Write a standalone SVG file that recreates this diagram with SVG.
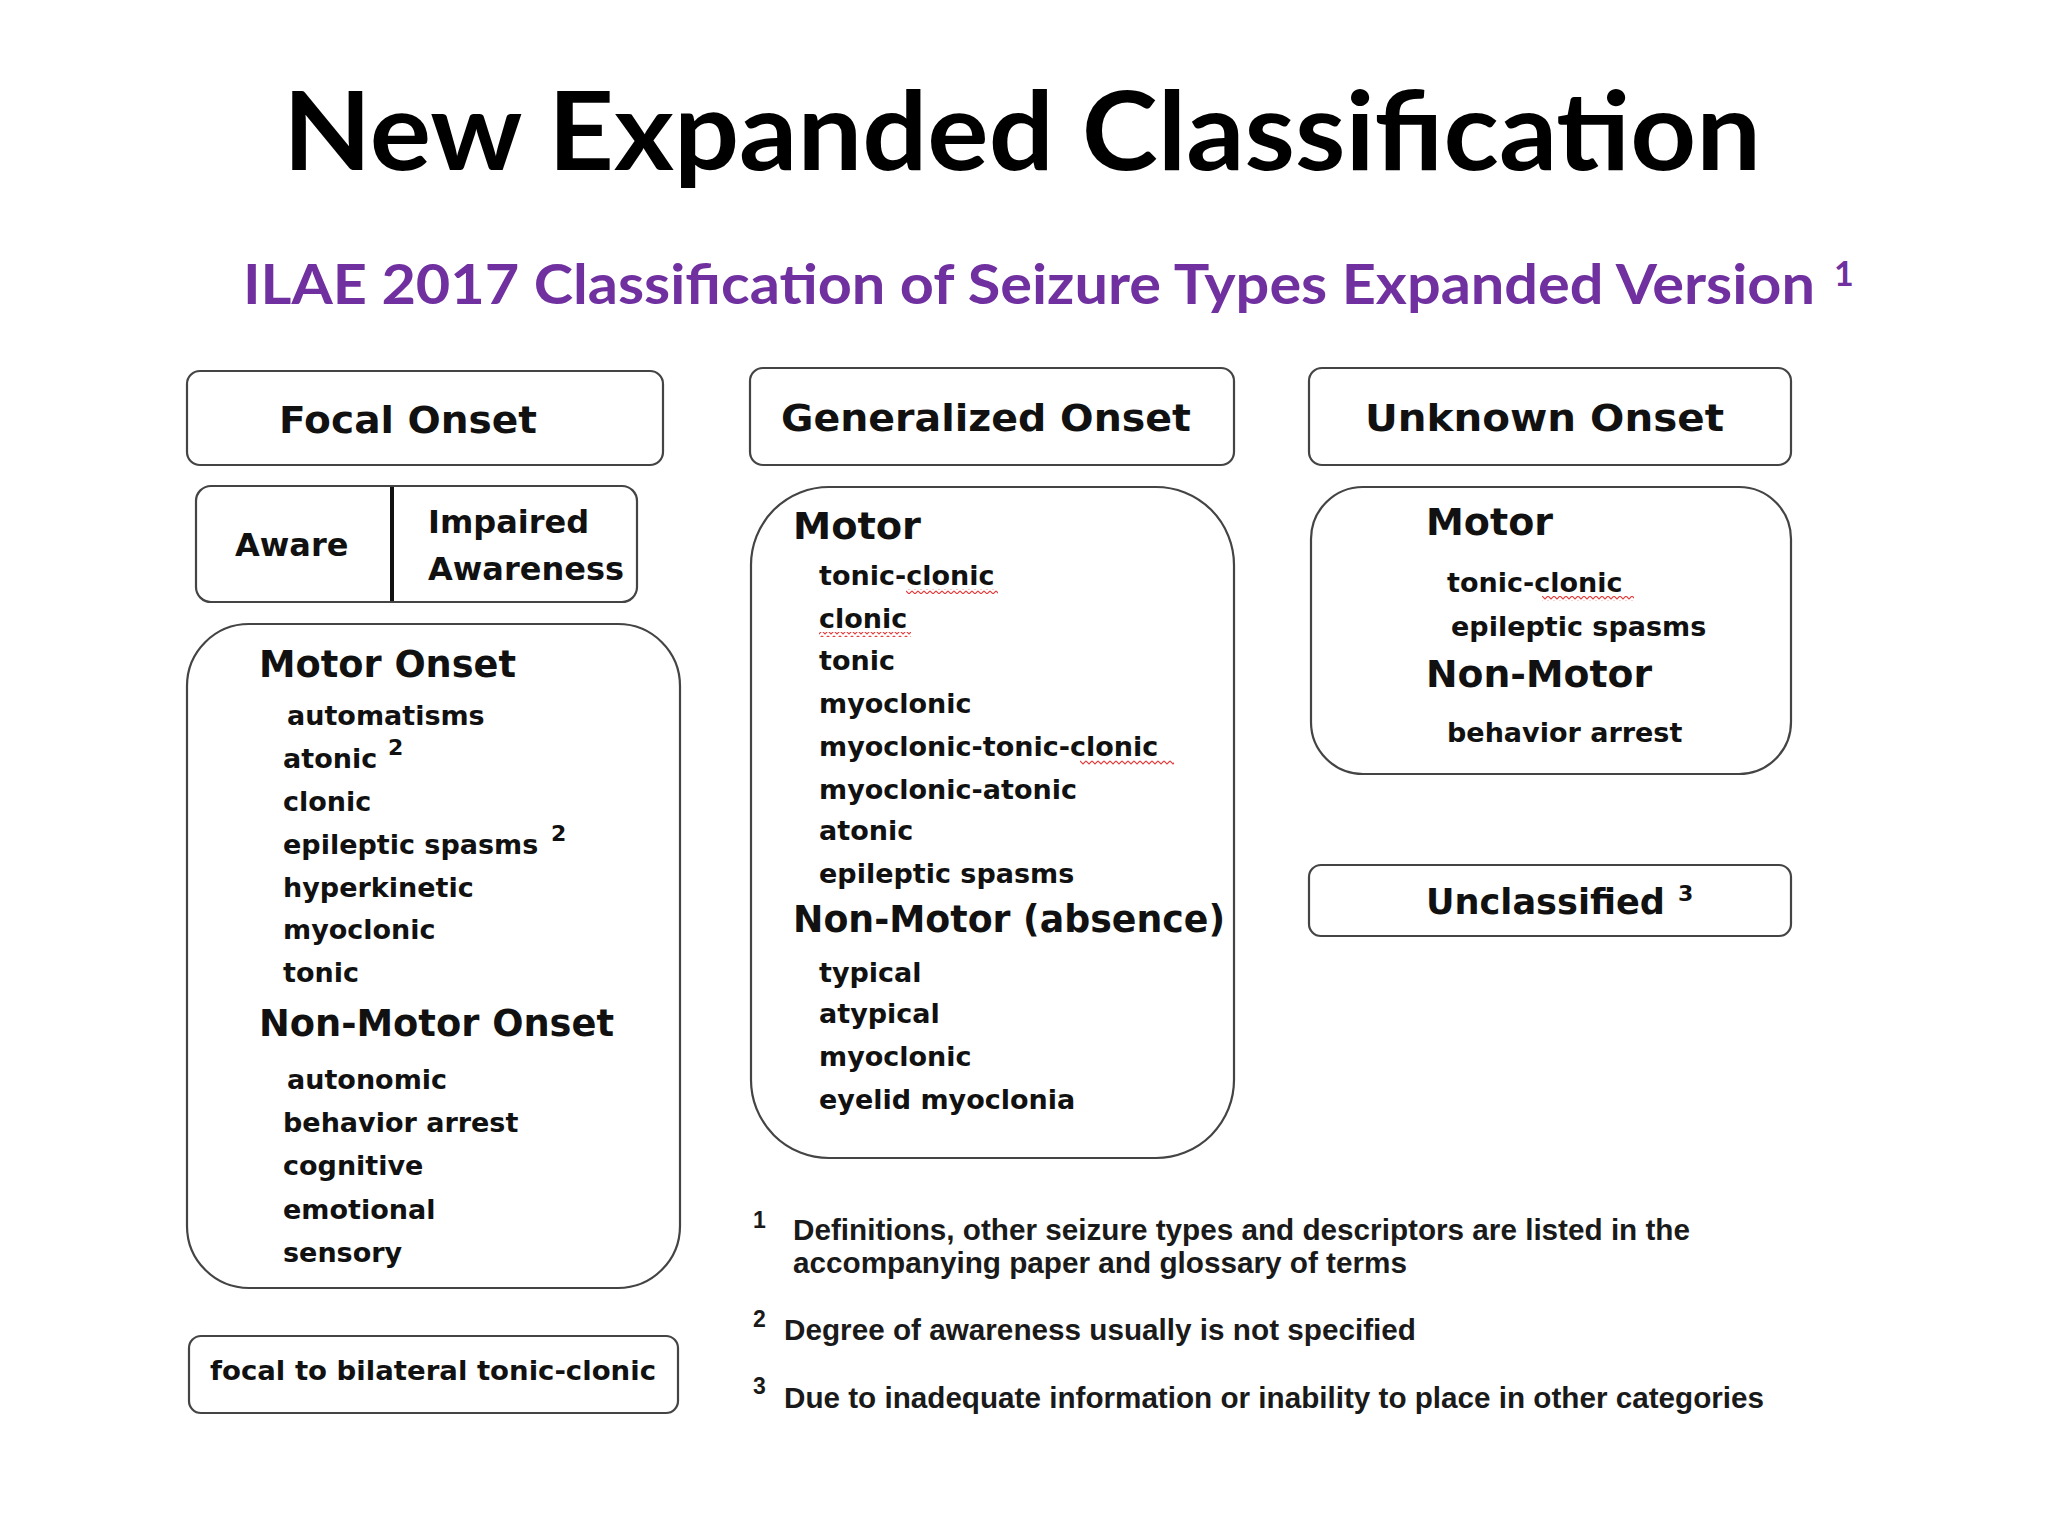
<svg xmlns="http://www.w3.org/2000/svg" width="2048" height="1536" viewBox="0 0 2048 1536">
<defs>
<style>
.box{fill:#fff;stroke:#444;stroke-width:2.2}
.t{font-family:"DejaVu Sans",Verdana,sans-serif;font-weight:bold;fill:#111}
.hd{font-size:38px}
.sub{font-size:37px}
.it{font-size:27px}
.sup{font-size:22px}
.fn{font-family:"Liberation Sans",Arial,sans-serif;font-weight:bold;font-size:29px;fill:#1a1a1a}
.fsup{font-family:"Liberation Sans",Arial,sans-serif;font-weight:bold;font-size:23px;fill:#1a1a1a}
</style>
<pattern id="wavy" width="6" height="5" patternUnits="userSpaceOnUse">
<path d="M0,1 L3,4 L6,1" fill="none" stroke="#e04040" stroke-width="1.2"/>
</pattern>
</defs>
<rect width="2048" height="1536" fill="#fff"/>

<text x="283" y="170" font-family="Lato,'Open Sans',sans-serif" font-weight="bold" font-size="109" textLength="1478" lengthAdjust="spacingAndGlyphs" fill="#000">New Expanded Classification</text>
<text x="243" y="304" font-family="Lato,'Open Sans',sans-serif" font-weight="bold" font-size="55" textLength="1572" lengthAdjust="spacingAndGlyphs" fill="#7030A0">ILAE 2017 Classification of Seizure Types Expanded Version</text>
<text x="1834" y="286" font-family="Lato,'Open Sans',sans-serif" font-weight="bold" font-size="34" fill="#7030A0">1</text>

<g id="focal-onset">
<rect class="box" x="187" y="371" width="476" height="94" rx="13"/>
<text class="t hd" x="279" y="433" textLength="258" lengthAdjust="spacingAndGlyphs">Focal Onset</text>
</g>

<g id="awareness">
<rect class="box" x="196" y="486" width="441" height="116" rx="15"/>
<line x1="392" y1="487" x2="392" y2="601" stroke="#111" stroke-width="4"/>
<text class="t" x="235" y="556" font-size="32">Aware</text>
<text class="t" x="428" y="533" font-size="32">Impaired</text>
<text class="t" x="428" y="580" font-size="32">Awareness</text>
</g>

<g id="focal-types">
<rect class="box" x="187" y="624" width="493" height="664" rx="62"/>
<text class="t sub" x="259" y="677" textLength="257" lengthAdjust="spacingAndGlyphs">Motor Onset</text>
<text class="t it" x="287" y="725">automatisms</text>
<text class="t it" x="283" y="768">atonic</text>
<text class="t sup" x="388" y="755">2</text>
<text class="t it" x="283" y="811">clonic</text>
<text class="t it" x="283" y="854">epileptic spasms</text>
<text class="t sup" x="551" y="841">2</text>
<text class="t it" x="283" y="897">hyperkinetic</text>
<text class="t it" x="283" y="939">myoclonic</text>
<text class="t it" x="283" y="982">tonic</text>
<text class="t sub" x="259" y="1036" textLength="355" lengthAdjust="spacingAndGlyphs">Non-Motor Onset</text>
<text class="t it" x="287" y="1089">autonomic</text>
<text class="t it" x="283" y="1132">behavior arrest</text>
<text class="t it" x="283" y="1175">cognitive</text>
<text class="t it" x="283" y="1219">emotional</text>
<text class="t it" x="283" y="1262">sensory</text>
</g>

<g id="focal-bilateral">
<rect class="box" x="189" y="1336" width="489" height="77" rx="12"/>
<text class="t it" x="210" y="1380" textLength="446" lengthAdjust="spacingAndGlyphs">focal to bilateral tonic-clonic</text>
</g>

<g id="generalized-onset">
<rect class="box" x="750" y="368" width="484" height="97" rx="13"/>
<text class="t hd" x="781" y="431" textLength="410" lengthAdjust="spacingAndGlyphs">Generalized Onset</text>
</g>

<g id="generalized-types">
<rect class="box" x="751" y="487" width="483" height="671" rx="78"/>
<text class="t sub" x="793" y="539" textLength="128" lengthAdjust="spacingAndGlyphs">Motor</text>
<text class="t it" x="819" y="585">tonic-clonic</text>
<text class="t it" x="819" y="628">clonic</text>
<text class="t it" x="819" y="670">tonic</text>
<text class="t it" x="819" y="713">myoclonic</text>
<text class="t it" x="819" y="756">myoclonic-tonic-clonic</text>
<text class="t it" x="819" y="799">myoclonic-atonic</text>
<text class="t it" x="819" y="840">atonic</text>
<text class="t it" x="819" y="883">epileptic spasms</text>
<text class="t sub" x="793" y="932" textLength="432" lengthAdjust="spacingAndGlyphs">Non-Motor (absence)</text>
<text class="t it" x="819" y="982">typical</text>
<text class="t it" x="819" y="1023">atypical</text>
<text class="t it" x="819" y="1066">myoclonic</text>
<text class="t it" x="819" y="1109">eyelid myoclonia</text>
<rect x="906" y="589" width="92" height="5" fill="url(#wavy)"/>
<rect x="819" y="632" width="92" height="5" fill="url(#wavy)"/>
<rect x="1080" y="760" width="94" height="5" fill="url(#wavy)"/>
</g>

<g id="unknown-onset">
<rect class="box" x="1309" y="368" width="482" height="97" rx="13"/>
<text class="t hd" x="1365" y="431" textLength="359" lengthAdjust="spacingAndGlyphs">Unknown Onset</text>
</g>

<g id="unknown-types">
<rect class="box" x="1311" y="487" width="480" height="287" rx="52"/>
<text class="t sub" x="1426" y="535" textLength="127" lengthAdjust="spacingAndGlyphs">Motor</text>
<text class="t it" x="1447" y="592">tonic-clonic</text>
<text class="t it" x="1451" y="636">epileptic spasms</text>
<text class="t sub" x="1426" y="687" textLength="226" lengthAdjust="spacingAndGlyphs">Non-Motor</text>
<text class="t it" x="1447" y="742">behavior arrest</text>
<rect x="1542" y="596" width="92" height="5" fill="url(#wavy)"/>
</g>

<g id="unclassified">
<rect class="box" x="1309" y="865" width="482" height="71" rx="12"/>
<text class="t" x="1426" y="914" font-size="35" textLength="239" lengthAdjust="spacingAndGlyphs">Unclassified</text>
<text class="t sup" x="1678" y="901">3</text>
</g>

<g id="connectors"></g>

<g id="footnotes">
<text class="fsup" x="753" y="1228">1</text>
<text class="fn" x="793" y="1240" textLength="897" lengthAdjust="spacingAndGlyphs">Definitions, other seizure types and descriptors are listed in the</text>
<text class="fn" x="793" y="1273" textLength="614" lengthAdjust="spacingAndGlyphs">accompanying paper and glossary of terms</text>
<text class="fsup" x="753" y="1327">2</text>
<text class="fn" x="784" y="1340" textLength="632" lengthAdjust="spacingAndGlyphs">Degree of awareness usually is not specified</text>
<text class="fsup" x="753" y="1394">3</text>
<text class="fn" x="784" y="1408" textLength="980" lengthAdjust="spacingAndGlyphs">Due to inadequate information or inability to place in other categories</text>
</g>
</svg>
